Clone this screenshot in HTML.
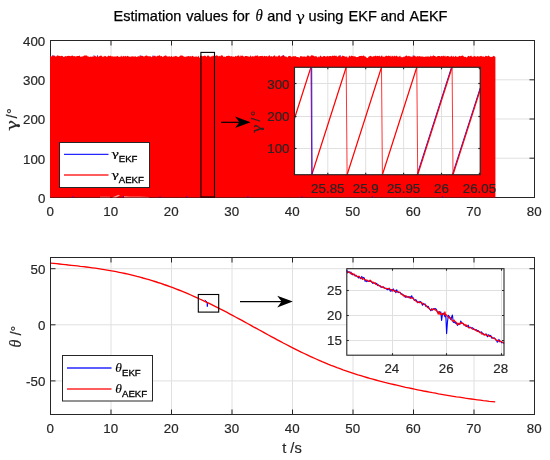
<!DOCTYPE html>
<html><head><meta charset="utf-8"><title>Estimation values</title>
<style>html,body{margin:0;padding:0;background:#fff;}svg{display:block;}</style></head>
<body>
<svg width="550" height="460" viewBox="0 0 550 460" font-family="Liberation Sans, sans-serif" font-size="13.33" fill="#262626" stroke-width="0">
<rect width="550" height="460" fill="#fff"/>
<g stroke="#e0e0e0" stroke-width="1">
<line x1="50.5" y1="40.5" x2="50.5" y2="197.5"/>
<line x1="111.0" y1="40.5" x2="111.0" y2="197.5"/>
<line x1="171.5" y1="40.5" x2="171.5" y2="197.5"/>
<line x1="232.0" y1="40.5" x2="232.0" y2="197.5"/>
<line x1="292.5" y1="40.5" x2="292.5" y2="197.5"/>
<line x1="353.0" y1="40.5" x2="353.0" y2="197.5"/>
<line x1="413.5" y1="40.5" x2="413.5" y2="197.5"/>
<line x1="474.0" y1="40.5" x2="474.0" y2="197.5"/>
<line x1="534.5" y1="40.5" x2="534.5" y2="197.5"/>
<line x1="50.5" y1="197.5" x2="534.5" y2="197.5"/>
<line x1="50.5" y1="158.2" x2="534.5" y2="158.2"/>
<line x1="50.5" y1="119.0" x2="534.5" y2="119.0"/>
<line x1="50.5" y1="79.8" x2="534.5" y2="79.8"/>
<line x1="50.5" y1="40.5" x2="534.5" y2="40.5"/>
</g>
<g stroke="#262626" stroke-width="1" fill="none">
<rect x="50.5" y="40.5" width="484.0" height="157.0"/>
<line x1="50.5" y1="197.5" x2="50.5" y2="192.5"/>
<line x1="50.5" y1="40.5" x2="50.5" y2="45.5"/>
<line x1="111.0" y1="197.5" x2="111.0" y2="192.5"/>
<line x1="111.0" y1="40.5" x2="111.0" y2="45.5"/>
<line x1="171.5" y1="197.5" x2="171.5" y2="192.5"/>
<line x1="171.5" y1="40.5" x2="171.5" y2="45.5"/>
<line x1="232.0" y1="197.5" x2="232.0" y2="192.5"/>
<line x1="232.0" y1="40.5" x2="232.0" y2="45.5"/>
<line x1="292.5" y1="197.5" x2="292.5" y2="192.5"/>
<line x1="292.5" y1="40.5" x2="292.5" y2="45.5"/>
<line x1="353.0" y1="197.5" x2="353.0" y2="192.5"/>
<line x1="353.0" y1="40.5" x2="353.0" y2="45.5"/>
<line x1="413.5" y1="197.5" x2="413.5" y2="192.5"/>
<line x1="413.5" y1="40.5" x2="413.5" y2="45.5"/>
<line x1="474.0" y1="197.5" x2="474.0" y2="192.5"/>
<line x1="474.0" y1="40.5" x2="474.0" y2="45.5"/>
<line x1="534.5" y1="197.5" x2="534.5" y2="192.5"/>
<line x1="534.5" y1="40.5" x2="534.5" y2="45.5"/>
<line x1="50.5" y1="197.5" x2="55.5" y2="197.5"/>
<line x1="534.5" y1="197.5" x2="529.5" y2="197.5"/>
<line x1="50.5" y1="158.2" x2="55.5" y2="158.2"/>
<line x1="534.5" y1="158.2" x2="529.5" y2="158.2"/>
<line x1="50.5" y1="119.0" x2="55.5" y2="119.0"/>
<line x1="534.5" y1="119.0" x2="529.5" y2="119.0"/>
<line x1="50.5" y1="79.8" x2="55.5" y2="79.8"/>
<line x1="534.5" y1="79.8" x2="529.5" y2="79.8"/>
<line x1="50.5" y1="40.5" x2="55.5" y2="40.5"/>
<line x1="534.5" y1="40.5" x2="529.5" y2="40.5"/>
</g>
<polygon points="50.0,197.5 50.0,56.2 50.9,55.8 51.8,56.8 52.7,55.5 53.6,55.4 54.5,55.4 55.4,56.4 56.3,56.4 57.2,55.3 58.1,55.7 59.0,55.8 59.9,56.0 60.8,56.2 61.7,55.8 62.6,56.0 63.5,57.0 64.4,56.8 65.3,55.9 66.2,56.4 67.1,55.9 68.0,56.0 68.9,55.8 69.8,56.1 70.7,56.3 71.6,55.8 72.5,55.6 73.4,56.2 74.3,56.1 75.2,56.5 76.1,56.5 77.0,55.9 77.9,55.9 78.8,55.9 79.7,55.4 80.6,57.0 81.5,56.5 82.4,56.5 83.3,56.3 84.2,55.4 85.1,55.6 86.0,55.5 86.9,55.6 87.8,56.5 88.7,56.5 89.6,56.9 90.5,56.5 91.4,56.7 92.3,56.4 93.2,56.4 94.1,56.2 95.0,55.6 95.9,56.6 96.8,56.7 97.7,55.5 98.6,56.9 99.5,56.1 100.4,55.7 101.3,55.4 102.2,56.4 103.1,57.2 104.0,55.7 104.9,56.4 105.8,55.8 106.7,56.9 107.6,56.6 108.5,55.4 109.4,56.2 110.3,55.6 111.2,56.5 112.1,55.9 113.0,56.8 113.9,56.6 114.8,56.5 115.7,56.5 116.6,56.5 117.5,55.8 118.4,56.8 119.3,56.8 120.2,57.0 121.1,55.6 122.0,56.7 122.9,56.5 123.8,55.8 124.7,56.8 125.6,55.7 126.5,56.7 127.4,55.8 128.3,56.2 129.2,56.7 130.1,56.6 131.0,56.9 131.9,55.9 132.8,56.5 133.7,56.6 134.6,56.6 135.5,56.2 136.4,57.0 137.3,56.7 138.2,56.1 139.1,56.8 140.0,55.4 140.9,56.2 141.8,55.6 142.7,56.1 143.6,56.4 144.5,56.4 145.4,55.8 146.3,55.6 147.2,55.7 148.1,56.5 149.0,56.1 149.9,56.5 150.8,56.3 151.7,57.2 152.6,56.0 153.5,56.3 154.4,55.7 155.3,55.7 156.2,56.9 157.1,55.5 158.0,56.3 158.9,55.4 159.8,55.3 160.7,56.5 161.6,55.8 162.5,57.0 163.4,56.6 164.3,56.1 165.2,55.6 166.1,55.4 167.0,56.4 167.9,56.4 168.8,56.6 169.7,56.2 170.6,56.9 171.5,55.7 172.4,57.1 173.3,56.5 174.2,56.6 175.1,56.2 176.0,55.8 176.9,56.4 177.8,56.8 178.7,56.9 179.6,56.2 180.5,55.5 181.4,55.6 182.3,55.5 183.2,56.3 184.1,56.4 185.0,57.0 185.9,56.4 186.8,56.4 187.7,56.2 188.6,56.1 189.5,56.5 190.4,56.0 191.3,56.7 192.2,55.7 193.1,56.2 194.0,56.7 194.9,56.8 195.8,56.6 196.7,56.4 197.6,56.9 198.5,55.5 199.4,58.2 200.3,55.8 201.2,55.4 202.1,56.3 203.0,56.2 203.9,55.9 204.8,55.4 205.7,56.0 206.6,56.9 207.5,55.4 208.4,55.6 209.3,56.2 210.2,57.3 211.1,56.0 212.0,56.7 212.9,55.6 213.8,56.0 214.7,55.6 215.6,55.9 216.5,55.3 217.4,55.6 218.3,56.4 219.2,55.8 220.1,56.6 221.0,55.6 221.9,55.3 222.8,55.8 223.7,57.0 224.6,56.5 225.5,56.9 226.4,56.1 227.3,55.9 228.2,55.8 229.1,55.7 230.0,56.2 230.9,56.6 231.8,56.0 232.7,56.8 233.6,56.6 234.5,56.9 235.4,55.8 236.3,56.5 237.2,55.9 238.1,55.4 239.0,55.5 239.9,56.9 240.8,55.3 241.7,55.9 242.6,55.4 243.5,56.5 244.4,56.8 245.3,55.9 246.2,56.1 247.1,56.0 248.0,56.4 248.9,56.5 249.8,56.8 250.7,55.3 251.6,56.9 252.5,56.0 253.4,56.6 254.3,56.6 255.2,55.4 256.1,56.0 257.0,55.6 257.9,55.6 258.8,56.7 259.7,56.0 260.6,56.1 261.5,55.9 262.4,55.7 263.3,56.7 264.2,55.8 265.1,56.3 266.0,56.2 266.9,55.9 267.8,56.7 268.7,55.7 269.6,55.3 270.5,56.7 271.4,56.1 272.3,56.8 273.2,56.2 274.1,55.4 275.0,55.5 275.9,56.9 276.8,55.9 277.7,56.8 278.6,55.4 279.5,55.3 280.4,56.8 281.3,56.2 282.2,55.6 283.1,55.4 284.0,55.5 284.9,56.6 285.8,56.6 286.7,56.7 287.6,57.4 288.5,56.1 289.4,56.1 290.3,55.8 291.2,56.9 292.1,56.6 293.0,56.6 293.9,56.0 294.8,56.5 295.7,56.1 296.6,56.9 297.5,57.0 298.4,57.0 299.3,57.9 300.2,56.1 301.1,56.5 302.0,56.1 302.9,57.0 303.8,56.3 304.7,56.4 305.6,56.8 306.5,56.7 307.4,55.5 308.3,55.4 309.2,56.3 310.1,56.7 311.0,55.5 311.9,55.3 312.8,55.4 313.7,55.7 314.6,56.5 315.5,56.2 316.4,55.9 317.3,57.8 318.2,56.3 319.1,57.4 320.0,55.7 320.9,55.8 321.8,57.0 322.7,56.8 323.6,55.9 324.5,56.1 325.4,56.5 326.3,56.7 327.2,55.8 328.1,56.5 329.0,56.2 329.9,55.9 330.8,56.1 331.7,56.5 332.6,55.5 333.5,55.9 334.4,55.5 335.3,56.0 336.2,55.5 337.1,56.7 338.0,56.6 338.9,55.5 339.8,55.5 340.7,56.6 341.6,56.8 342.5,55.6 343.4,56.0 344.3,56.2 345.2,56.6 346.1,56.9 347.0,56.0 347.9,58.2 348.8,56.4 349.7,55.6 350.6,56.7 351.5,55.4 352.4,55.9 353.3,56.3 354.2,56.6 355.1,56.1 356.0,57.3 356.9,56.9 357.8,57.0 358.7,56.5 359.6,56.1 360.5,55.9 361.4,55.8 362.3,56.3 363.2,55.4 364.1,55.8 365.0,56.8 365.9,56.4 366.8,58.1 367.7,57.9 368.6,56.8 369.5,56.2 370.4,55.8 371.3,56.3 372.2,56.8 373.1,56.4 374.0,55.9 374.9,56.3 375.8,55.4 376.7,56.5 377.6,55.7 378.5,56.3 379.4,55.6 380.3,57.0 381.2,55.8 382.1,55.6 383.0,57.2 383.9,56.2 384.8,56.9 385.7,55.8 386.6,55.7 387.5,56.3 388.4,55.6 389.3,56.2 390.2,55.4 391.1,56.9 392.0,55.5 392.9,56.2 393.8,56.4 394.7,55.5 395.6,56.4 396.5,55.4 397.4,56.5 398.3,56.8 399.2,56.4 400.1,55.6 401.0,57.4 401.9,56.7 402.8,57.6 403.7,56.5 404.6,56.7 405.5,55.9 406.4,55.3 407.3,56.5 408.2,55.8 409.1,56.5 410.0,55.8 410.9,56.9 411.8,56.6 412.7,56.5 413.6,55.9 414.5,55.4 415.4,56.2 416.3,56.9 417.2,55.8 418.1,56.8 419.0,55.9 419.9,56.2 420.8,56.6 421.7,56.5 422.6,56.4 423.5,56.7 424.4,56.9 425.3,56.5 426.2,56.8 427.1,56.2 428.0,56.8 428.9,56.2 429.8,56.9 430.7,55.5 431.6,56.6 432.5,56.2 433.4,55.3 434.3,55.9 435.2,56.0 436.1,56.9 437.0,56.5 437.9,56.0 438.8,56.1 439.7,55.9 440.6,56.7 441.5,55.8 442.4,56.4 443.3,55.6 444.2,56.6 445.1,55.6 446.0,57.0 446.9,56.1 447.8,56.1 448.7,56.3 449.6,56.8 450.5,56.8 451.4,55.6 452.3,57.0 453.2,55.7 454.1,56.9 455.0,56.4 455.9,55.7 456.8,57.0 457.7,56.7 458.6,56.4 459.5,55.7 460.4,56.3 461.3,55.9 462.2,55.6 463.1,55.8 464.0,56.7 464.9,56.9 465.8,56.7 466.7,57.7 467.6,56.4 468.5,55.8 469.4,56.4 470.3,56.0 471.2,55.6 472.1,57.0 473.0,56.4 473.9,56.6 474.8,55.7 475.7,56.7 476.6,56.7 477.5,55.9 478.4,56.5 479.3,56.6 480.2,56.2 481.1,55.7 482.0,56.5 482.9,56.4 483.8,56.5 484.7,56.9 485.6,55.7 486.5,56.0 487.4,56.4 488.3,55.6 489.2,56.1 490.1,57.0 491.0,56.8 491.9,56.9 492.8,56.5 493.7,55.7 495.4,56.9 495.4,197.5" fill="#ff0000"/>
<rect x="52.3" y="55.2" width="0.8" height="1.2" fill="#0000ff" opacity="0.7"/>
<rect x="93.5" y="55.2" width="0.8" height="1.2" fill="#0000ff" opacity="0.7"/>
<rect x="97.2" y="55.2" width="0.8" height="1.2" fill="#0000ff" opacity="0.7"/>
<rect x="139.8" y="55.2" width="0.8" height="1.2" fill="#0000ff" opacity="0.7"/>
<rect x="152.6" y="55.2" width="0.8" height="1.2" fill="#0000ff" opacity="0.7"/>
<rect x="283.0" y="55.2" width="0.8" height="1.2" fill="#0000ff" opacity="0.7"/>
<rect x="340.1" y="55.2" width="0.8" height="1.2" fill="#0000ff" opacity="0.7"/>
<rect x="412.7" y="55.2" width="0.8" height="1.2" fill="#0000ff" opacity="0.7"/>
<path d="M112,197.5 L118.5,194.8 L120,195.6 L116,197.5 Z" fill="#fff" opacity="0.6"/>
<path d="M124,196.0 L130,196.5 L140,196.6 L149,197.0 L149,197.5 L124,197.5 Z" fill="#fff" opacity="0.45"/>
<rect x="100" y="196.6" width="10" height="0.9" fill="#fff" opacity="0.4"/>
<rect x="72.5" y="196.2" width="1.1" height="1.1" fill="#0000ff" opacity="0.7"/>
<rect x="123.0" y="196.2" width="1.1" height="1.1" fill="#0000ff" opacity="0.7"/>
<rect x="159.5" y="196.2" width="1.1" height="1.1" fill="#0000ff" opacity="0.7"/>
<rect x="186.2" y="196.2" width="1.1" height="1.1" fill="#0000ff" opacity="0.7"/>
<rect x="247.3" y="196.2" width="1.1" height="1.1" fill="#0000ff" opacity="0.7"/>
<rect x="301.4" y="196.2" width="1.1" height="1.1" fill="#0000ff" opacity="0.7"/>
<rect x="371.8" y="196.2" width="1.1" height="1.1" fill="#0000ff" opacity="0.7"/>
<rect x="442.0" y="196.2" width="1.1" height="1.1" fill="#0000ff" opacity="0.7"/>
<rect x="51" y="197" width="444" height="0.6" fill="#400" opacity="0.35"/>
<g text-anchor="middle" stroke="#262626" stroke-width="0.18">
<text x="50.2" y="215.7">0</text>
<text x="110.7" y="215.7">10</text>
<text x="171.2" y="215.7">20</text>
<text x="231.7" y="215.7">30</text>
<text x="292.2" y="215.7">40</text>
<text x="352.7" y="215.7">50</text>
<text x="413.2" y="215.7">60</text>
<text x="473.7" y="215.7">70</text>
<text x="534.2" y="215.7">80</text>
</g><g text-anchor="end" stroke="#262626" stroke-width="0.18">
<text x="45.3" y="202.8">0</text>
<text x="45.3" y="163.6">100</text>
<text x="45.3" y="124.3">200</text>
<text x="45.3" y="85.0">300</text>
<text x="45.3" y="45.8">400</text>
</g>
<text y="20.7" font-size="14.5" fill="#000" stroke="#000" stroke-width="0.25"><tspan x="113.6">Estimation</tspan> <tspan x="186.2">values</tspan> <tspan x="232.7">for</tspan> <tspan x="267.3">and</tspan> <tspan x="308.6">using</tspan> <tspan x="348.6">EKF</tspan> <tspan x="380.6">and</tspan> <tspan x="409.6">AEKF</tspan></text>
<text transform="translate(295.5,21.1) scale(1.12,0.95)" font-family="DejaVu Serif, Liberation Serif, serif" font-size="14.5" fill="#000">γ</text>
<text transform="translate(255.4,20.9) scale(0.86,1)" font-family="Liberation Serif, serif" font-style="italic" font-size="17.3" fill="#000" stroke="#000" stroke-width="0.2">θ</text>
<text transform="translate(17.400000000000002,131.0) rotate(-90) scale(1.2,1.0)" font-family="DejaVu Serif, Liberation Serif, serif" font-style="normal" font-size="15.5" stroke="#262626" stroke-width="0.18">γ</text>
<text transform="translate(16.8,118.6) rotate(-90)" font-size="14.67" stroke="#262626" stroke-width="0.18">/</text>
<text transform="translate(16.8,114.0) rotate(-90)" font-size="14.67" stroke="#262626" stroke-width="0.18">°</text>
<rect x="200.9" y="52.4" width="13.6" height="144.6" fill="none" stroke="#000" stroke-width="1.1"/>
<line x1="221" y1="122.3" x2="240.6" y2="122.3" stroke="#000" stroke-width="1.2"/>
<path d="M250.6,122.3 L235.0,116.5 L239.4,122.3 L235.0,128.1 Z" fill="#000"/>
<rect x="59.5" y="142.5" width="90" height="45" fill="#fff" stroke="#262626" stroke-width="1"/>
<line x1="64.0" y1="154.3" x2="108.5" y2="154.3" stroke="#0000ff" stroke-width="1.3" stroke-opacity="0.85"/>
<text transform="translate(111.0,156.8) scale(1.25,0.78)" fill="#000" stroke="#000" stroke-width="0.15" font-family="DejaVu Serif, Liberation Serif, serif" font-style="normal" font-size="11">γ</text>
<text x="118.8" y="161.8" fill="#000" stroke="#000" stroke-width="0.32" font-size="9.6">EKF</text>
<line x1="64.0" y1="175.0" x2="108.5" y2="175.0" stroke="#ff0000" stroke-width="1.3" stroke-opacity="0.85"/>
<text transform="translate(111.0,177.5) scale(1.25,0.78)" fill="#000" stroke="#000" stroke-width="0.15" font-family="DejaVu Serif, Liberation Serif, serif" font-style="normal" font-size="11">γ</text>
<text x="118.8" y="182.5" fill="#000" stroke="#000" stroke-width="0.32" font-size="9.6">AEKF</text>
<rect x="294.5" y="67.3" width="185.8" height="107.39999999999999" fill="#fff"/>
<g stroke="#e0e0e0" stroke-width="1">
<line x1="327.8" y1="67.3" x2="327.8" y2="174.7"/>
<line x1="365.7" y1="67.3" x2="365.7" y2="174.7"/>
<line x1="403.6" y1="67.3" x2="403.6" y2="174.7"/>
<line x1="441.5" y1="67.3" x2="441.5" y2="174.7"/>
<line x1="479.4" y1="67.3" x2="479.4" y2="174.7"/>
<line x1="294.5" y1="148.5" x2="480.3" y2="148.5"/>
<line x1="294.5" y1="116.5" x2="480.3" y2="116.5"/>
<line x1="294.5" y1="83.5" x2="480.3" y2="83.5"/>
</g>
<path d="M417.1,174.7 L451.5,67.3 M452.4,174.7 L480.3,87.7" fill="none" stroke="#0000ff" stroke-width="0.95"/>
<path d="M294.5,118.5 L310.9,67.3 M311.8,174.7 L346.2,67.3 M347.1,174.7 L381.5,67.3 M382.4,174.7 L416.8,67.3 M417.7,174.7 L452.1,67.3 M453.0,174.7 L480.3,89.5" fill="none" stroke="#ff0000" stroke-width="1.2" stroke-linecap="round"/>
<path d="M310.9,67.3 L311.8,174.7 M346.2,67.3 L347.1,174.7 M381.5,67.3 L382.4,174.7 M416.8,67.3 L417.7,174.7 M452.1,67.3 L453.0,174.7" fill="none" stroke="#ff0000" stroke-width="0.8" stroke-linecap="round"/>
<path d="M311.7,67.8 L312.0,174.2" fill="none" stroke="#0000ff" stroke-width="0.9"/>
<g stroke="#262626" stroke-width="1.15" fill="none">
<rect x="294.5" y="67.3" width="185.8" height="107.39999999999999"/>
<line x1="327.8" y1="174.7" x2="327.8" y2="172.7"/>
<line x1="327.8" y1="67.3" x2="327.8" y2="69.3"/>
<line x1="365.7" y1="174.7" x2="365.7" y2="172.7"/>
<line x1="365.7" y1="67.3" x2="365.7" y2="69.3"/>
<line x1="403.6" y1="174.7" x2="403.6" y2="172.7"/>
<line x1="403.6" y1="67.3" x2="403.6" y2="69.3"/>
<line x1="441.5" y1="174.7" x2="441.5" y2="172.7"/>
<line x1="441.5" y1="67.3" x2="441.5" y2="69.3"/>
<line x1="479.4" y1="174.7" x2="479.4" y2="172.7"/>
<line x1="479.4" y1="67.3" x2="479.4" y2="69.3"/>
<line x1="294.5" y1="148.5" x2="296.5" y2="148.5"/>
<line x1="480.3" y1="148.5" x2="478.3" y2="148.5"/>
<line x1="294.5" y1="116.5" x2="296.5" y2="116.5"/>
<line x1="480.3" y1="116.5" x2="478.3" y2="116.5"/>
<line x1="294.5" y1="83.5" x2="296.5" y2="83.5"/>
<line x1="480.3" y1="83.5" x2="478.3" y2="83.5"/>
</g>
<g text-anchor="middle" stroke="#262626" stroke-width="0.18">
<text x="327.8" y="193.2">25.85</text>
<text x="365.7" y="193.2">25.9</text>
<text x="403.6" y="193.2">25.95</text>
<text x="441.5" y="193.2">26</text>
<text x="479.4" y="193.2">26.05</text>
</g><g text-anchor="end" stroke="#262626" stroke-width="0.18">
<text x="289.5" y="153.2">100</text>
<text x="289.5" y="120.9">200</text>
<text x="289.5" y="88.6">300</text>
</g>
<text transform="translate(261.3,133.2) rotate(-90) scale(1.12,1.0)" font-family="DejaVu Serif, Liberation Serif, serif" font-style="normal" font-size="13.5" stroke="#262626" stroke-width="0.18">γ</text>
<text transform="translate(260.3,121.6) rotate(-90)" font-size="13.33" stroke="#262626" stroke-width="0.18">/</text>
<text transform="translate(260.3,116.0) rotate(-90)" font-size="13.33" stroke="#262626" stroke-width="0.18">°</text>
<g stroke="#e0e0e0" stroke-width="1">
<line x1="50.5" y1="257.5" x2="50.5" y2="414.5"/>
<line x1="111.0" y1="257.5" x2="111.0" y2="414.5"/>
<line x1="171.5" y1="257.5" x2="171.5" y2="414.5"/>
<line x1="232.0" y1="257.5" x2="232.0" y2="414.5"/>
<line x1="292.5" y1="257.5" x2="292.5" y2="414.5"/>
<line x1="353.0" y1="257.5" x2="353.0" y2="414.5"/>
<line x1="413.5" y1="257.5" x2="413.5" y2="414.5"/>
<line x1="474.0" y1="257.5" x2="474.0" y2="414.5"/>
<line x1="534.5" y1="257.5" x2="534.5" y2="414.5"/>
<line x1="50.5" y1="380.9" x2="534.5" y2="380.9"/>
<line x1="50.5" y1="324.8" x2="534.5" y2="324.8"/>
<line x1="50.5" y1="268.7" x2="534.5" y2="268.7"/>
</g>
<path d="M204.8,300.1 L207.0,302.0 l0.3,4.6 l0.5,-3.6" fill="none" stroke="#0000ff" stroke-width="1"/>
<path d="M50.5,263.1 L53.5,263.4 L56.5,263.7 L59.5,264.0 L62.4,264.3 L65.4,264.6 L68.4,265.0 L71.4,265.3 L74.4,265.6 L77.4,265.9 L80.3,266.3 L83.3,266.6 L86.3,267.0 L89.3,267.4 L92.3,267.8 L95.3,268.2 L98.3,268.6 L101.2,269.1 L104.2,269.6 L107.2,270.1 L110.2,270.6 L113.2,271.1 L116.2,271.7 L119.1,272.3 L122.1,272.9 L125.1,273.5 L128.1,274.2 L131.1,274.9 L134.1,275.6 L137.0,276.4 L140.0,277.1 L143.0,278.0 L146.0,278.8 L149.0,279.7 L152.0,280.6 L155.0,281.5 L157.9,282.5 L160.9,283.4 L163.9,284.5 L166.9,285.5 L169.9,286.6 L172.9,287.7 L175.8,288.8 L178.8,290.0 L181.8,291.2 L184.8,292.4 L187.8,293.7 L190.8,295.0 L193.8,296.3 L196.7,297.6 L199.7,299.0 L202.7,300.4 L205.7,301.8 L208.7,303.2 L211.7,304.7 L214.6,306.1 L217.6,307.6 L220.6,309.2 L223.6,310.7 L226.6,312.2 L229.6,313.8 L232.5,315.4 L235.5,317.0 L238.5,318.6 L241.5,320.2 L244.5,321.8 L247.5,323.5 L250.5,325.1 L253.4,326.8 L256.4,328.4 L259.4,330.0 L262.4,331.7 L265.4,333.3 L268.4,335.0 L271.3,336.6 L274.3,338.2 L277.3,339.8 L280.3,341.4 L283.3,343.0 L286.3,344.5 L289.3,346.1 L292.2,347.6 L295.2,349.1 L298.2,350.6 L301.2,352.1 L304.2,353.5 L307.2,354.9 L310.1,356.3 L313.1,357.7 L316.1,359.0 L319.1,360.3 L322.1,361.6 L325.1,362.8 L328.0,364.1 L331.0,365.3 L334.0,366.4 L337.0,367.6 L340.0,368.7 L343.0,369.8 L346.0,370.8 L348.9,371.8 L351.9,372.8 L354.9,373.8 L357.9,374.8 L360.9,375.7 L363.9,376.6 L366.8,377.5 L369.8,378.4 L372.8,379.2 L375.8,380.0 L378.8,380.8 L381.8,381.6 L384.8,382.4 L387.7,383.1 L390.7,383.8 L393.7,384.5 L396.7,385.2 L399.7,385.9 L402.7,386.6 L405.6,387.3 L408.6,387.9 L411.6,388.5 L414.6,389.2 L417.6,389.8 L420.6,390.4 L423.5,391.0 L426.5,391.5 L429.5,392.1 L432.5,392.7 L435.5,393.2 L438.5,393.8 L441.5,394.3 L444.4,394.8 L447.4,395.3 L450.4,395.8 L453.4,396.3 L456.4,396.8 L459.4,397.2 L462.3,397.7 L465.3,398.2 L468.3,398.6 L471.3,399.0 L474.3,399.4 L477.3,399.8 L480.3,400.2 L483.2,400.6 L486.2,400.9 L489.2,401.3 L492.2,401.6 L495.2,401.9" fill="none" stroke="#ff0000" stroke-width="1.35"/>
<g stroke="#262626" stroke-width="1" fill="none">
<rect x="50.5" y="257.5" width="484.0" height="157.0"/>
<line x1="50.5" y1="414.5" x2="50.5" y2="409.5"/>
<line x1="50.5" y1="257.5" x2="50.5" y2="262.5"/>
<line x1="111.0" y1="414.5" x2="111.0" y2="409.5"/>
<line x1="111.0" y1="257.5" x2="111.0" y2="262.5"/>
<line x1="171.5" y1="414.5" x2="171.5" y2="409.5"/>
<line x1="171.5" y1="257.5" x2="171.5" y2="262.5"/>
<line x1="232.0" y1="414.5" x2="232.0" y2="409.5"/>
<line x1="232.0" y1="257.5" x2="232.0" y2="262.5"/>
<line x1="292.5" y1="414.5" x2="292.5" y2="409.5"/>
<line x1="292.5" y1="257.5" x2="292.5" y2="262.5"/>
<line x1="353.0" y1="414.5" x2="353.0" y2="409.5"/>
<line x1="353.0" y1="257.5" x2="353.0" y2="262.5"/>
<line x1="413.5" y1="414.5" x2="413.5" y2="409.5"/>
<line x1="413.5" y1="257.5" x2="413.5" y2="262.5"/>
<line x1="474.0" y1="414.5" x2="474.0" y2="409.5"/>
<line x1="474.0" y1="257.5" x2="474.0" y2="262.5"/>
<line x1="534.5" y1="414.5" x2="534.5" y2="409.5"/>
<line x1="534.5" y1="257.5" x2="534.5" y2="262.5"/>
<line x1="50.5" y1="380.9" x2="55.5" y2="380.9"/>
<line x1="534.5" y1="380.9" x2="529.5" y2="380.9"/>
<line x1="50.5" y1="324.8" x2="55.5" y2="324.8"/>
<line x1="534.5" y1="324.8" x2="529.5" y2="324.8"/>
<line x1="50.5" y1="268.7" x2="55.5" y2="268.7"/>
<line x1="534.5" y1="268.7" x2="529.5" y2="268.7"/>
</g>
<g text-anchor="middle" stroke="#262626" stroke-width="0.18">
<text x="50.2" y="432.7">0</text>
<text x="110.7" y="432.7">10</text>
<text x="171.2" y="432.7">20</text>
<text x="231.7" y="432.7">30</text>
<text x="292.2" y="432.7">40</text>
<text x="352.7" y="432.7">50</text>
<text x="413.2" y="432.7">60</text>
<text x="473.7" y="432.7">70</text>
<text x="534.2" y="432.7">80</text>
</g><g text-anchor="end" stroke="#262626" stroke-width="0.18">
<text x="45.3" y="386.2">-50</text>
<text x="45.3" y="330.1">0</text>
<text x="45.3" y="274.0">50</text>
</g>
<text x="292" y="452.8" text-anchor="middle" font-size="14.67" stroke="#262626" stroke-width="0.18">t /s</text>
<text transform="translate(20.8,336.5) rotate(-90)" text-anchor="middle" font-size="14.67" stroke="#262626" stroke-width="0.18"><tspan font-family="Liberation Serif, serif" font-style="italic" font-size="16">θ</tspan> /°</text>
<rect x="198.3" y="294.5" width="20.4" height="17.6" fill="none" stroke="#000" stroke-width="1.1"/>
<line x1="240" y1="301.6" x2="282.8" y2="301.6" stroke="#000" stroke-width="1.2"/>
<path d="M292.8,301.6 L277.2,295.8 L281.6,301.6 L277.2,307.40000000000003 Z" fill="#000"/>
<rect x="62.5" y="355.5" width="90" height="45.5" fill="#fff" stroke="#262626" stroke-width="1"/>
<line x1="67.0" y1="368.0" x2="111.5" y2="368.0" stroke="#0000ff" stroke-width="1.3" stroke-opacity="0.85"/>
<text transform="translate(115.2,371.7) scale(1,1)" fill="#000" stroke="#000" stroke-width="0.15" font-family="Liberation Serif, serif" font-style="italic" font-size="13.5">θ</text>
<text x="122.0" y="375.5" fill="#000" stroke="#000" stroke-width="0.32" font-size="9.6">EKF</text>
<line x1="67.0" y1="389.0" x2="111.5" y2="389.0" stroke="#ff0000" stroke-width="1.3" stroke-opacity="0.85"/>
<text transform="translate(115.2,392.7) scale(1,1)" fill="#000" stroke="#000" stroke-width="0.15" font-family="Liberation Serif, serif" font-style="italic" font-size="13.5">θ</text>
<text x="122.0" y="396.5" fill="#000" stroke="#000" stroke-width="0.32" font-size="9.6">AEKF</text>
<rect x="346.8" y="268.7" width="157.2" height="86.5" fill="#fff"/>
<g stroke="#e0e0e0" stroke-width="1">
<line x1="392.5" y1="268.7" x2="392.5" y2="355.2"/>
<line x1="446.5" y1="268.7" x2="446.5" y2="355.2"/>
<line x1="501.5" y1="268.7" x2="501.5" y2="355.2"/>
<line x1="346.8" y1="340.5" x2="504.0" y2="340.5"/>
<line x1="346.8" y1="315.5" x2="504.0" y2="315.5"/>
<line x1="346.8" y1="290.5" x2="504.0" y2="290.5"/>
</g>
<path d="M346.8,269.9 L347.6,272.9 L348.5,271.9 L349.3,271.7 L350.1,273.2 L351.0,272.1 L351.8,274.2 L352.6,274.7 L353.5,274.1 L354.3,274.6 L355.1,276.0 L355.9,275.2 L356.8,276.1 L357.6,276.7 L358.4,278.0 L359.3,276.8 L360.1,277.6 L360.9,278.8 L361.8,276.4 L362.6,278.5 L363.4,277.6 L364.3,278.1 L365.1,281.3 L365.9,280.3 L366.8,281.6 L367.6,280.5 L368.4,281.4 L369.3,280.9 L370.1,281.0 L370.9,281.6 L371.8,282.0 L372.6,283.3 L373.4,282.4 L374.2,283.3 L375.1,283.3 L375.9,284.0 L376.7,283.3 L377.6,285.6 L378.4,284.8 L379.2,285.7 L380.1,285.9 L380.9,287.2 L381.7,287.1 L382.6,287.0 L383.4,287.4 L384.2,287.8 L385.1,288.3 L385.9,288.4 L386.7,289.2 L387.6,289.7 L388.4,289.2 L389.2,288.1 L390.1,290.7 L390.9,291.3 L391.7,289.7 L392.5,289.9 L393.4,289.0 L394.2,291.4 L395.0,290.3 L395.9,292.7 L396.7,289.7 L397.5,291.9 L398.4,292.6 L399.2,292.2 L400.0,292.4 L400.9,293.8 L401.7,293.7 L402.5,294.4 L403.4,295.2 L404.2,295.3 L405.0,296.1 L405.9,297.3 L406.7,296.5 L407.5,297.1 L408.3,296.6 L409.2,298.0 L410.0,296.5 L410.8,298.3 L411.7,295.8 L412.5,297.9 L413.3,297.9 L414.2,300.4 L415.0,300.3 L415.8,299.7 L416.7,300.8 L417.5,302.7 L418.3,301.9 L419.2,302.7 L420.0,301.4 L420.8,301.7 L421.7,303.6 L422.5,305.2 L423.3,303.4 L424.2,304.5 L425.0,303.9 L425.8,306.4 L426.6,305.9 L427.5,306.7 L428.3,306.4 L429.1,308.3 L430.0,309.5 L430.8,310.7 L431.6,308.7 L432.5,310.1 L433.3,309.0 L434.1,308.9 L435.0,308.5 L435.8,308.7 L436.6,309.8 L437.5,312.7 L438.3,312.2 L439.1,311.6 L440.0,312.2 L440.8,312.0 L441.6,320.5 L442.5,313.7 L443.3,313.1 L444.1,314.4 L444.9,316.8 L445.8,315.0 L446.6,333.6 L447.4,322.5 L448.3,315.2 L449.1,316.4 L449.9,317.6 L450.8,319.6 L451.6,317.3 L452.4,315.0 L453.3,322.3 L454.1,322.6 L454.9,321.5 L455.8,323.4 L456.6,323.2 L457.4,325.4 L458.3,324.1 L459.1,323.9 L459.9,324.4 L460.7,321.1 L461.6,322.6 L462.4,323.1 L463.2,324.0 L464.1,324.7 L464.9,324.8 L465.7,326.0 L466.6,326.4 L467.4,326.3 L468.2,325.2 L469.1,328.0 L469.9,327.0 L470.7,327.6 L471.6,328.3 L472.4,327.8 L473.2,328.4 L474.1,329.4 L474.9,329.4 L475.7,330.3 L476.6,329.8 L477.4,330.7 L478.2,330.5 L479.0,331.5 L479.9,332.3 L480.7,332.4 L481.5,331.9 L482.4,333.2 L483.2,333.8 L484.0,334.9 L484.9,334.3 L485.7,334.4 L486.5,334.1 L487.4,336.8 L488.2,334.9 L489.0,335.1 L489.9,336.2 L490.7,335.4 L491.5,338.0 L492.4,337.7 L493.2,338.4 L494.0,337.7 L494.9,338.5 L495.7,339.9 L496.5,340.4 L497.3,342.2 L498.2,341.3 L499.0,339.4 L499.8,341.2 L500.7,341.3 L501.5,342.7 L502.3,342.2 L503.2,343.0 L504.0,342.7" fill="none" stroke="#0000ff" stroke-width="1.1" stroke-linejoin="round"/>
<path d="M346.8,271.6 L347.6,272.0 L348.5,272.1 L349.3,272.4 L350.1,272.2 L351.0,273.9 L351.8,273.3 L352.6,273.6 L353.5,274.8 L354.3,274.1 L355.1,275.7 L355.9,275.9 L356.8,276.3 L357.6,276.4 L358.4,276.3 L359.3,276.3 L360.1,278.2 L360.9,277.7 L361.8,278.1 L362.6,279.4 L363.4,278.8 L364.3,279.3 L365.1,279.7 L365.9,280.1 L366.8,280.0 L367.6,280.5 L368.4,281.5 L369.3,281.5 L370.1,280.1 L370.9,280.8 L371.8,282.1 L372.6,282.1 L373.4,282.4 L374.2,283.5 L375.1,282.6 L375.9,284.4 L376.7,284.4 L377.6,285.0 L378.4,285.3 L379.2,286.0 L380.1,286.0 L380.9,286.3 L381.7,287.1 L382.6,287.1 L383.4,286.7 L384.2,288.1 L385.1,288.3 L385.9,288.7 L386.7,288.3 L387.6,288.7 L388.4,288.6 L389.2,288.6 L390.1,289.4 L390.9,289.7 L391.7,289.7 L392.5,291.1 L393.4,289.8 L394.2,290.4 L395.0,290.8 L395.9,291.9 L396.7,291.5 L397.5,291.7 L398.4,291.7 L399.2,292.2 L400.0,292.5 L400.9,294.0 L401.7,294.4 L402.5,295.1 L403.4,294.9 L404.2,296.9 L405.0,295.8 L405.9,295.7 L406.7,296.7 L407.5,297.0 L408.3,297.5 L409.2,296.8 L410.0,297.7 L410.8,298.3 L411.7,297.6 L412.5,298.2 L413.3,298.3 L414.2,299.7 L415.0,300.5 L415.8,301.0 L416.7,301.6 L417.5,302.3 L418.3,302.0 L419.2,302.7 L420.0,302.1 L420.8,302.5 L421.7,303.3 L422.5,303.1 L423.3,304.0 L424.2,304.7 L425.0,304.8 L425.8,305.1 L426.6,305.9 L427.5,307.6 L428.3,307.5 L429.1,308.6 L430.0,309.3 L430.8,309.7 L431.6,310.1 L432.5,309.2 L433.3,308.6 L434.1,309.8 L435.0,309.3 L435.8,310.3 L436.6,310.7 L437.5,311.9 L438.3,314.2 L439.1,311.5 L440.0,314.6 L440.8,312.9 L441.6,314.7 L442.5,313.7 L443.3,314.0 L444.1,314.6 L444.9,311.9 L445.8,315.6 L446.6,314.8 L447.4,316.2 L448.3,316.8 L449.1,318.1 L449.9,317.9 L450.8,318.0 L451.6,319.7 L452.4,321.2 L453.3,320.8 L454.1,320.0 L454.9,321.5 L455.8,322.0 L456.6,322.2 L457.4,324.7 L458.3,323.3 L459.1,324.6 L459.9,323.5 L460.7,322.4 L461.6,323.4 L462.4,323.1 L463.2,323.2 L464.1,325.3 L464.9,324.3 L465.7,325.9 L466.6,325.0 L467.4,326.6 L468.2,327.4 L469.1,327.6 L469.9,327.8 L470.7,327.7 L471.6,328.0 L472.4,329.2 L473.2,329.3 L474.1,329.4 L474.9,329.9 L475.7,329.7 L476.6,331.0 L477.4,331.5 L478.2,331.0 L479.0,331.8 L479.9,332.7 L480.7,332.3 L481.5,333.9 L482.4,334.1 L483.2,333.7 L484.0,334.6 L484.9,335.2 L485.7,334.2 L486.5,335.4 L487.4,335.3 L488.2,335.6 L489.0,336.4 L489.9,336.2 L490.7,336.2 L491.5,336.6 L492.4,337.6 L493.2,338.4 L494.0,338.5 L494.9,338.8 L495.7,339.3 L496.5,340.3 L497.3,340.4 L498.2,340.2 L499.0,340.7 L499.8,341.8 L500.7,341.3 L501.5,341.8 L502.3,342.3 L503.2,342.2 L504.0,343.4" fill="none" stroke="#ff0000" stroke-width="1.15" stroke-linejoin="round"/>
<g stroke="#262626" stroke-width="1.1" fill="none">
<rect x="346.8" y="268.7" width="157.2" height="86.5"/>
<line x1="392.5" y1="355.2" x2="392.5" y2="353.2"/>
<line x1="392.5" y1="268.7" x2="392.5" y2="270.7"/>
<line x1="446.5" y1="355.2" x2="446.5" y2="353.2"/>
<line x1="446.5" y1="268.7" x2="446.5" y2="270.7"/>
<line x1="501.5" y1="355.2" x2="501.5" y2="353.2"/>
<line x1="501.5" y1="268.7" x2="501.5" y2="270.7"/>
<line x1="346.8" y1="340.5" x2="348.8" y2="340.5"/>
<line x1="504.0" y1="340.5" x2="502.0" y2="340.5"/>
<line x1="346.8" y1="315.5" x2="348.8" y2="315.5"/>
<line x1="504.0" y1="315.5" x2="502.0" y2="315.5"/>
<line x1="346.8" y1="290.5" x2="348.8" y2="290.5"/>
<line x1="504.0" y1="290.5" x2="502.0" y2="290.5"/>
</g>
<g text-anchor="middle" stroke="#262626" stroke-width="0.18">
<text x="391.8" y="373.0">24</text>
<text x="446.2" y="373.0">26</text>
<text x="500.7" y="373.0">28</text>
</g><g text-anchor="end" stroke="#262626" stroke-width="0.18">
<text x="341.8" y="344.6">15</text>
<text x="341.8" y="319.7">20</text>
<text x="341.8" y="294.8">25</text>
</g>
</svg>
</body></html>
